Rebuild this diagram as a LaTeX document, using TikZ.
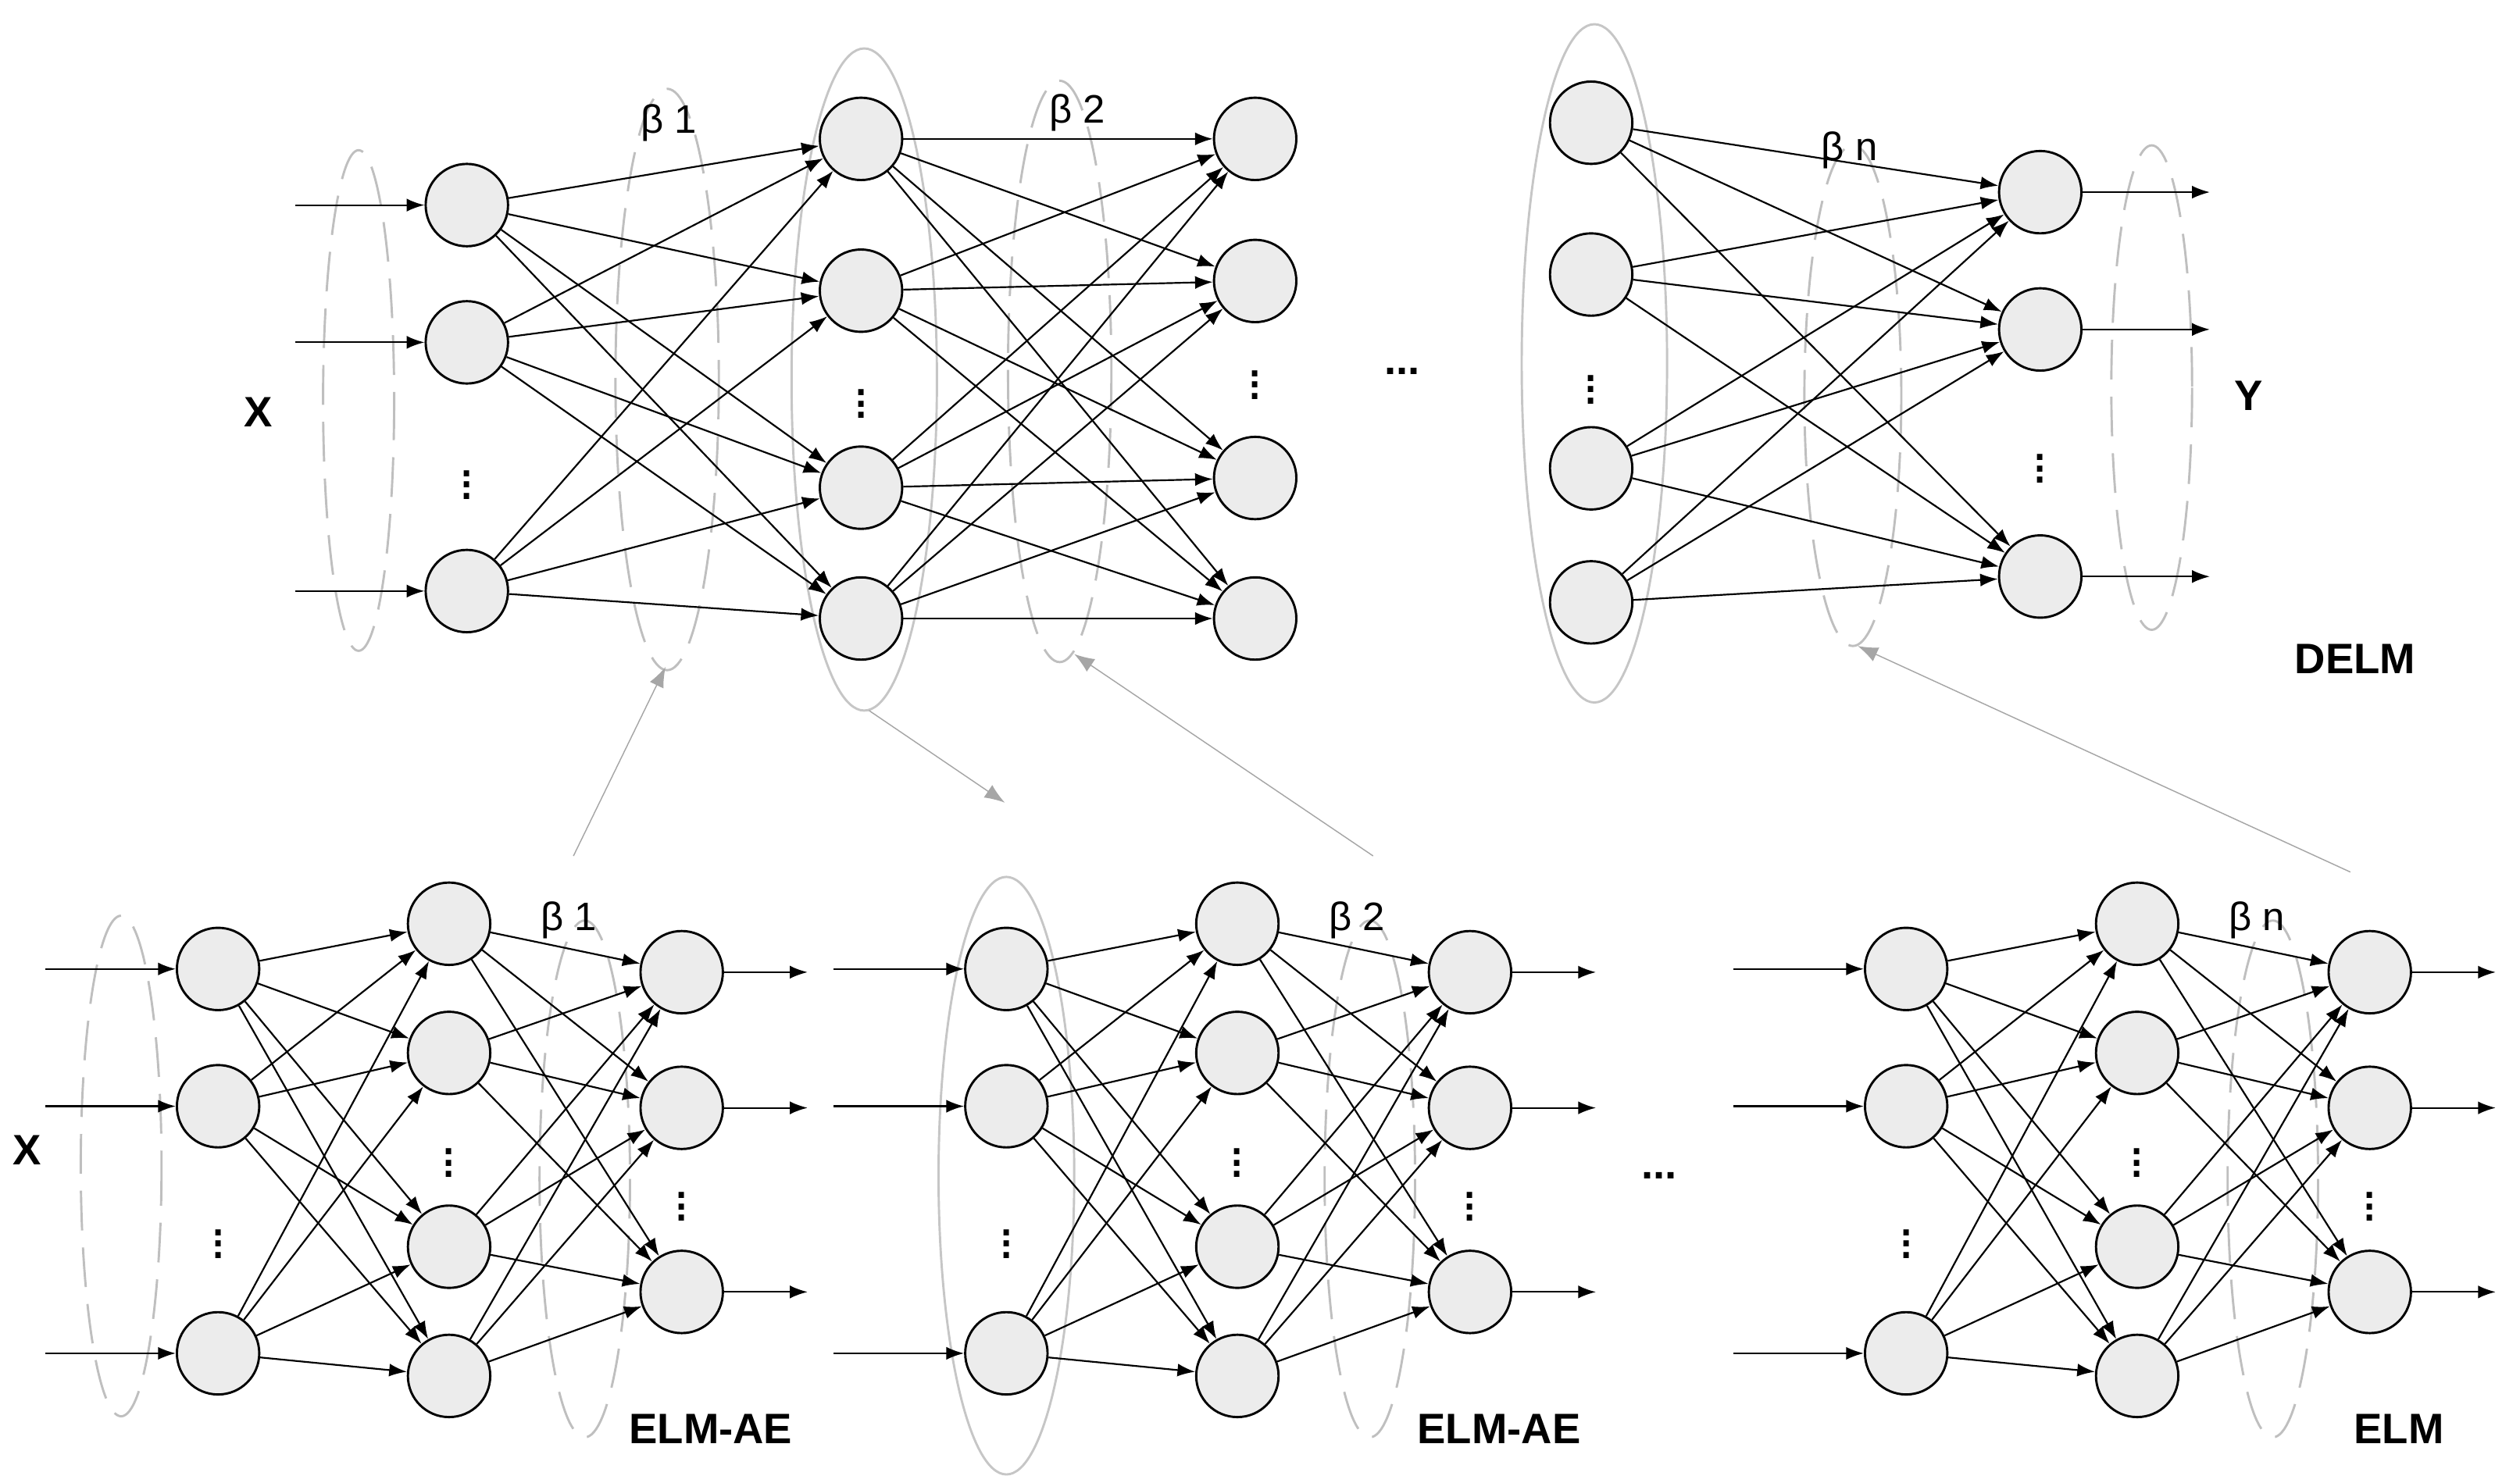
\documentclass[tikz,border=0pt]{standalone}
\usepackage{fontspec}
\setmainfont{Liberation Sans}
\usetikzlibrary{arrows.meta}
\begin{document}
\begin{tikzpicture}[x=0.02cm,y=-0.02cm,
  neuron/.style={circle,draw,thick,fill=gray!15,minimum size=1.02cm,inner sep=0pt},
  link/.style={-{Latex[length=2.2mm,width=1.6mm]},line width=0.6pt},
  dashring/.style={gray!50,dashed,dash pattern=on 14pt off 6pt,thick},
  ring/.style={gray!45,thick},
  feed/.style={-{Latex[length=2.5mm]},gray!70,thin},
  lbl/.style={font=\bfseries\fontsize{15}{18}\selectfont},
  beta/.style={font=\fontsize{14}{16}\selectfont},
  vdots/.style={font=\fontsize{20}{22}\selectfont}]
\useasboundingbox (0,0) rectangle (1560,918);
% ---- ellipses (top)
\draw[dashring] (222,248) ellipse (22 and 155);
\draw[dashring] (413,235) ellipse (32 and 180);
\draw[ring] (535,235) ellipse (45 and 205);
\draw[dashring] (656,230) ellipse (32 and 180);
\draw[ring] (987,225) ellipse (45 and 210);
\draw[dashring] (1147,245) ellipse (30 and 155);
\draw[dashring] (1332,240) ellipse (25 and 150);
% ---- ellipses (bottom)
\draw[dashring] (75,722) ellipse (25 and 155);
\draw[dashring] (362,730) ellipse (28 and 160);
\draw[ring] (623,728) ellipse (42 and 185);
\draw[dashring] (848,730) ellipse (28 and 160);
\draw[dashring] (1407,730) ellipse (28 and 160);
% ---- DELM
\foreach \y [count=\i] in {127,212,366} \node[neuron] (a\i) at (289,\y) {};
\foreach \y [count=\i] in {86,180,302,383} \node[neuron] (b\i) at (533,\y) {};
\foreach \y [count=\i] in {86,174,296,383} \node[neuron] (c\i) at (777,\y) {};
\foreach \y [count=\i] in {76,170,290,373} \node[neuron] (d\i) at (985,\y) {};
\foreach \y [count=\i] in {119,204,357} \node[neuron] (e\i) at (1263,\y) {};
\foreach \i in {1,2,3} {
  \coordinate (ain\i) at (183,0|-a\i);
  \draw[link] (ain\i) -- (a\i);
  \coordinate (eout\i) at (1368,0|-e\i);
  \draw[link] (e\i) -- (eout\i);
  \foreach \j in {1,...,4} {
    \draw[link] (a\i) -- (b\j);
    \draw[link] (d\j) -- (e\i);
  }
}
\foreach \i in {1,...,4} \foreach \j in {1,...,4} \draw[link] (b\i) -- (c\j);
\node[vdots] at (289,295) {\vdots};
\node[vdots] at (533,245) {\vdots};
\node[vdots] at (777,233) {\vdots};
\node[vdots] at (985,236) {\vdots};
\node[vdots] at (1263,285) {\vdots};
\node[lbl] at (868,230) {...};
\node[lbl] (xtop) at (160,255) {X};
\node[lbl] (ytop) at (1392,245) {Y};
\node[lbl] (delm) at (1458,408) {DELM};
\node[beta] at (414,76) {β 1};
\node[beta] at (667,70) {β 2};
\node[beta] at (1145,93) {β n};
% ---- three ELM(-AE) nets
\foreach \n/\ox/\lab/\bt in {p/0/ELM-AE/1,q/488/ELM-AE/2,r/1045/ELM/n} {
  \begin{scope}[xshift=\ox*0.02cm]
  \foreach \y [count=\i] in {600,685,838} \node[neuron] (\n in\i) at (135,\y) {};
  \foreach \y [count=\i] in {572,652,772,852} \node[neuron] (\n hd\i) at (278,\y) {};
  \foreach \y [count=\i] in {602,686,800} \node[neuron] (\n ot\i) at (422,\y) {};
  \foreach \i in {1,2,3} {
    \coordinate (\n src\i) at (28,0|-\n in\i);
    \draw[link] (\n src\i) -- (\n in\i);
    \coordinate (\n snk\i) at (500,0|-\n ot\i);
    \draw[link] (\n ot\i) -- (\n snk\i);
    \foreach \j in {1,...,4} {
      \draw[link] (\n in\i) -- (\n hd\j);
      \draw[link] (\n hd\j) -- (\n ot\i);
    }
  }
  \node[vdots] at (135,765) {\vdots};
  \node[vdots] at (278,715) {\vdots};
  \node[vdots] at (422,742) {\vdots};
  \node[beta] at (352,570) {β \bt};
  \node[lbl] at (440,885) {\lab};
  \end{scope}
}
\node[lbl] (xbot) at (17,712) {X};
\node[lbl] at (1027,728) {...};
% ---- feeding arrows
\draw[feed] (355,530) -- (412,413);
\draw[feed] (538,440) -- (622,497);
\draw[feed] (850,530) -- (665,405);
\draw[feed] (1455,540) -- (1150,400);
\end{tikzpicture}
\end{document}
